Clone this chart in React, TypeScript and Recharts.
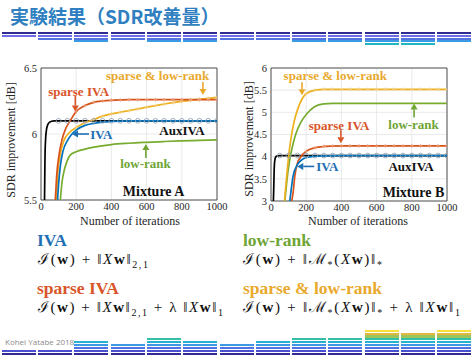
import React from 'react';
import { ComposedChart, Line, XAxis, YAxis, CartesianGrid, ReferenceArea, ReferenceDot } from 'recharts';

type Pt = { x: number; y: number };
type Note = { x: number; y: number; text: string; color: string; size: number; anchor: 'start' | 'middle' | 'end' };
type Arrow = { x: number; y: number; dir: 'up' | 'down' | 'left'; len: number; color: string };

const X_TICKS = [0, 200, 400, 600, 800, 1000];
const A_Y_TICKS = [5.5, 6, 6.5];
const B_Y_TICKS = [3, 3.5, 4, 4.5, 5, 5.5, 6];

// ---- Mixture A ----
const A_AUXIVA: Pt[] = [
  { x: 15, y: 5.2 }, { x: 20, y: 5.5 }, { x: 23, y: 5.85 }, { x: 27, y: 5.98 }, { x: 32, y: 6.04 },
  { x: 40, y: 6.075 }, { x: 50, y: 6.09 }, { x: 60, y: 6.097 }, { x: 75, y: 6.1 },
  { x: 100, y: 6.1 }, { x: 150, y: 6.1 }, { x: 200, y: 6.1 }, { x: 250, y: 6.1 }, { x: 300, y: 6.1 },
  { x: 350, y: 6.1 }, { x: 400, y: 6.1 }, { x: 450, y: 6.1 }, { x: 500, y: 6.1 }, { x: 550, y: 6.1 },
  { x: 600, y: 6.1 }, { x: 650, y: 6.1 }, { x: 700, y: 6.1 }, { x: 750, y: 6.1 }, { x: 800, y: 6.1 },
  { x: 850, y: 6.1 }, { x: 900, y: 6.1 }, { x: 950, y: 6.1 }, { x: 1000, y: 6.1 },
];
const A_IVA: Pt[] = [
  { x: 90, y: 5.4 }, { x: 94, y: 5.5 }, { x: 100, y: 5.62 }, { x: 110, y: 5.76 }, { x: 125, y: 5.87 },
  { x: 150, y: 5.95 }, { x: 176, y: 6.0 }, { x: 200, y: 6.03 }, { x: 250, y: 6.065 }, { x: 300, y: 6.08 },
  { x: 350, y: 6.09 }, { x: 400, y: 6.095 }, { x: 500, y: 6.1 }, { x: 1000, y: 6.1 },
];
const A_SPARSE: Pt[] = [
  { x: 75, y: 5.4 }, { x: 81, y: 5.5 }, { x: 90, y: 5.7 }, { x: 100, y: 5.82 }, { x: 120, y: 5.96 },
  { x: 140, y: 6.04 }, { x: 166, y: 6.1 }, { x: 200, y: 6.17 }, { x: 250, y: 6.215 }, { x: 300, y: 6.24 },
  { x: 350, y: 6.25 }, { x: 400, y: 6.255 }, { x: 450, y: 6.258 }, { x: 500, y: 6.26 }, { x: 550, y: 6.26 },
  { x: 600, y: 6.26 }, { x: 650, y: 6.26 }, { x: 700, y: 6.26 }, { x: 750, y: 6.26 }, { x: 800, y: 6.26 },
  { x: 850, y: 6.26 }, { x: 900, y: 6.26 }, { x: 950, y: 6.26 }, { x: 1000, y: 6.26 },
];
const A_LOWRANK: Pt[] = [
  { x: 105, y: 5.4 }, { x: 110, y: 5.5 }, { x: 120, y: 5.64 }, { x: 135, y: 5.74 }, { x: 150, y: 5.8 },
  { x: 166, y: 5.84 }, { x: 200, y: 5.865 }, { x: 250, y: 5.885 }, { x: 300, y: 5.9 }, { x: 400, y: 5.92 },
  { x: 500, y: 5.93 }, { x: 600, y: 5.937 }, { x: 700, y: 5.943 }, { x: 800, y: 5.948 }, { x: 900, y: 5.952 },
  { x: 1000, y: 5.956 },
];
const A_BOTH: Pt[] = [
  { x: 80, y: 5.35 }, { x: 87, y: 5.5 }, { x: 95, y: 5.7 }, { x: 110, y: 5.85 }, { x: 130, y: 5.95 },
  { x: 160, y: 6.01 }, { x: 200, y: 6.05 }, { x: 250, y: 6.085 }, { x: 300, y: 6.11 }, { x: 350, y: 6.135 },
  { x: 400, y: 6.152 }, { x: 450, y: 6.165 }, { x: 500, y: 6.177 }, { x: 550, y: 6.19 }, { x: 600, y: 6.203 },
  { x: 650, y: 6.215 }, { x: 700, y: 6.227 }, { x: 750, y: 6.238 }, { x: 800, y: 6.247 }, { x: 850, y: 6.255 },
  { x: 900, y: 6.263 }, { x: 950, y: 6.27 }, { x: 1000, y: 6.277 },
];

// ---- Mixture B ----
const B_AUXIVA: Pt[] = [
  { x: 12, y: 2.8 }, { x: 15, y: 3.2 }, { x: 18, y: 3.7 }, { x: 22, y: 3.93 }, { x: 28, y: 4.0 },
  { x: 35, y: 4.015 }, { x: 50, y: 4.025 }, { x: 100, y: 4.025 }, { x: 150, y: 4.025 }, { x: 200, y: 4.025 },
  { x: 250, y: 4.025 }, { x: 300, y: 4.025 }, { x: 350, y: 4.025 }, { x: 400, y: 4.025 }, { x: 450, y: 4.025 },
  { x: 500, y: 4.025 }, { x: 550, y: 4.025 }, { x: 600, y: 4.025 }, { x: 650, y: 4.025 }, { x: 700, y: 4.025 },
  { x: 750, y: 4.025 }, { x: 800, y: 4.025 }, { x: 850, y: 4.025 }, { x: 900, y: 4.025 }, { x: 950, y: 4.025 },
  { x: 1000, y: 4.025 },
];
const B_IVA: Pt[] = [
  { x: 100, y: 2.8 }, { x: 105, y: 2.95 }, { x: 113, y: 3.2 }, { x: 125, y: 3.55 }, { x: 150, y: 3.82 },
  { x: 175, y: 3.93 }, { x: 200, y: 3.98 }, { x: 250, y: 4.01 }, { x: 300, y: 4.02 }, { x: 400, y: 4.025 },
  { x: 1000, y: 4.025 },
];
const B_SPARSE: Pt[] = [
  { x: 112, y: 2.85 }, { x: 120, y: 3.05 }, { x: 126, y: 3.2 }, { x: 135, y: 3.55 }, { x: 150, y: 3.85 },
  { x: 170, y: 4.0 }, { x: 200, y: 4.12 }, { x: 250, y: 4.2 }, { x: 300, y: 4.23 }, { x: 350, y: 4.24 },
  { x: 400, y: 4.245 }, { x: 450, y: 4.245 }, { x: 500, y: 4.245 }, { x: 550, y: 4.245 }, { x: 600, y: 4.245 },
  { x: 650, y: 4.245 }, { x: 700, y: 4.245 }, { x: 750, y: 4.245 }, { x: 800, y: 4.245 }, { x: 850, y: 4.245 },
  { x: 900, y: 4.245 }, { x: 950, y: 4.245 }, { x: 1000, y: 4.245 },
];
const B_LOWRANK: Pt[] = [
  { x: 75, y: 2.9 }, { x: 80, y: 3.05 }, { x: 90, y: 3.45 }, { x: 105, y: 3.9 }, { x: 120, y: 4.2 },
  { x: 140, y: 4.5 }, { x: 170, y: 4.78 }, { x: 200, y: 4.95 }, { x: 245, y: 5.12 }, { x: 300, y: 5.19 },
  { x: 350, y: 5.2 }, { x: 1000, y: 5.2 },
];
const B_BOTH: Pt[] = [
  { x: 75, y: 2.9 }, { x: 81, y: 3.2 }, { x: 90, y: 3.6 }, { x: 100, y: 4.0 }, { x: 115, y: 4.45 },
  { x: 132, y: 4.8 }, { x: 150, y: 5.05 }, { x: 176, y: 5.3 }, { x: 200, y: 5.42 }, { x: 250, y: 5.5 },
  { x: 300, y: 5.52 }, { x: 350, y: 5.52 }, { x: 400, y: 5.52 }, { x: 450, y: 5.52 }, { x: 500, y: 5.52 },
  { x: 550, y: 5.52 }, { x: 600, y: 5.52 }, { x: 650, y: 5.52 }, { x: 700, y: 5.52 }, { x: 750, y: 5.52 },
  { x: 800, y: 5.52 }, { x: 850, y: 5.52 }, { x: 900, y: 5.52 }, { x: 950, y: 5.52 }, { x: 1000, y: 5.52 },
];

const C_BLUE = '#0072BD';
const C_RED = '#D95319';
const C_YEL = '#EDB120';
const C_GREEN = '#77AC30';
const T_BLUE = '#1f6fb5';
const T_RED = '#d9552a';
const T_YEL = '#e9a92c';
const T_GREEN = '#6ea535';

const A_NOTES: Note[] = [
  { x: 214, y: 6.32, text: 'sparse IVA', color: T_RED, size: 13, anchor: 'middle' },
  { x: 663, y: 6.44, text: 'sparse & low-rank', color: T_YEL, size: 13, anchor: 'middle' },
  { x: 280, y: 6.0, text: 'IVA', color: T_BLUE, size: 13, anchor: 'start' },
  { x: 801, y: 6.023, text: 'AuxIVA', color: '#111', size: 13, anchor: 'middle' },
  { x: 594, y: 5.78, text: 'low-rank', color: T_GREEN, size: 13, anchor: 'middle' },
  { x: 640, y: 5.563, text: 'Mixture A', color: '#111', size: 14, anchor: 'middle' },
];
const A_ARROWS: Arrow[] = [
  { x: 195, y: 6.17, dir: 'down', len: 16, color: T_RED },
  { x: 920, y: 6.295, dir: 'down', len: 13, color: T_YEL },
  { x: 176, y: 6.0, dir: 'left', len: 17, color: T_BLUE },
  { x: 596, y: 5.924, dir: 'up', len: 14, color: T_GREEN },
];
const B_NOTES: Note[] = [
  { x: 365, y: 5.82, text: 'sparse & low-rank', color: T_YEL, size: 13, anchor: 'middle' },
  { x: 810, y: 4.73, text: 'low-rank', color: T_GREEN, size: 13, anchor: 'middle' },
  { x: 387, y: 4.71, text: 'sparse IVA', color: T_RED, size: 13, anchor: 'middle' },
  { x: 257, y: 3.78, text: 'IVA', color: T_BLUE, size: 13, anchor: 'start' },
  { x: 796, y: 3.78, text: 'AuxIVA', color: '#111', size: 13, anchor: 'middle' },
  { x: 810, y: 3.2, text: 'Mixture B', color: '#111', size: 14, anchor: 'middle' },
];
const B_ARROWS: Arrow[] = [
  { x: 176, y: 5.384, dir: 'down', len: 13, color: T_YEL },
  { x: 813, y: 5.2, dir: 'up', len: 14, color: T_GREEN },
  { x: 397, y: 4.3, dir: 'down', len: 13, color: T_RED },
  { x: 149, y: 3.78, dir: 'left', len: 17, color: T_BLUE },
];

const TOP_STRIPE_COUNTS = [2, 3, 4, 3, 4, 4, 3, 3, 4, 4, 5, 5, 4];
const BOTTOM_STRIPE_COUNTS = [2, 2, 5, 4, 6, 5, 4, 5, 6, 6, 9, 8, 9];
const TOP_COLORS = ['#302a93', '#6f6de6', '#5573e0', '#3a9be2', '#1fb6c2', '#35c39a'];
const BOTTOM_COLORS = ['#33289a', '#4a4fd0', '#4f74e4', '#3d98e6', '#27b2d2', '#34bfa6', '#9cc45a', '#e2b844', '#f6e23a'];

const SERIF = '"Liberation Serif", "Times New Roman", serif';
const MATH = '"Liberation Serif", "DejaVu Serif", serif';
const TICK_STYLE = { fontSize: 10.5, fill: '#262626', fontFamily: SERIF };

function plusDot(color: string, from: number) {
  return (p: any) => {
    const k = `pd${p.index}`;
    if (p.payload == null || p.payload.x < from || p.payload.x % 50 !== 0) return <g key={k} />;
    return (
      <g key={k}>
        <line x1={p.cx - 1.8} x2={p.cx + 1.8} y1={p.cy} y2={p.cy} stroke={color} strokeWidth={0.9} />
        <line x1={p.cx} x2={p.cx} y1={p.cy - 1.8} y2={p.cy + 1.8} stroke={color} strokeWidth={0.9} />
      </g>
    );
  };
}

function circleDot(from: number) {
  return (p: any) => {
    const k = `cd${p.index}`;
    if (p.payload == null || p.payload.x < from || p.payload.x % 50 !== 0) return <g key={k} />;
    return <circle key={k} cx={p.cx} cy={p.cy} r={2.4} fill="none" stroke="#97a6b8" strokeWidth={0.9} />;
  };
}

function noteShape(n: Note) {
  return (s: any) => (
    <text x={s.cx} y={s.cy} textAnchor={n.anchor} dominantBaseline="central" fontFamily={SERIF}
      fontWeight={700} fontSize={n.size} fill={n.color}>{n.text}</text>
  );
}

function arrowShape(a: Arrow) {
  return (s: any) => {
    const cx = s.cx, cy = s.cy, h = 6, w = 3.5;
    let x1 = cx, y1 = cy, x2 = cx, y2 = cy, pts = '';
    if (a.dir === 'down') { y1 = cy - a.len; y2 = cy - h; pts = `${cx},${cy} ${cx - w},${cy - h} ${cx + w},${cy - h}`; }
    if (a.dir === 'up') { y1 = cy + a.len; y2 = cy + h; pts = `${cx},${cy} ${cx - w},${cy + h} ${cx + w},${cy + h}`; }
    if (a.dir === 'left') { x1 = cx + a.len; x2 = cx + h; pts = `${cx},${cy} ${cx + h},${cy - w} ${cx + h},${cy + w}`; }
    return (
      <g>
        <line x1={x1} y1={y1} x2={x2} y2={y2} stroke={a.color} strokeWidth={1.6} />
        <polygon points={pts} fill={a.color} />
      </g>
    );
  };
}

type PanelProps = {
  left: number; top: number; width: number; height: number;
  marginTop: number; marginRight: number; yAxisWidth: number; xAxisHeight: number;
  yDomain: [number, number]; yTicks: number[];
  aux: Pt[]; auxMarkFrom: number; iva: Pt[]; sparse: Pt[]; lowrank: Pt[]; both: Pt[];
  notes: Note[]; arrows: Arrow[];
  yLabelX: number; yLabelY: number; xLabelX: number; xLabelY: number;
};

function Panel(p: PanelProps) {
  return (
    <div style={{ position: 'absolute', left: p.left, top: p.top, width: p.width, height: p.height }}>
      <ComposedChart width={p.width} height={p.height}
        margin={{ top: p.marginTop, right: p.marginRight, left: 0, bottom: 0 }}>
        <CartesianGrid stroke="#e4e4e4" strokeWidth={0.8} />
        <XAxis type="number" dataKey="x" domain={[0, 1000]} ticks={X_TICKS} allowDataOverflow interval={0}
          height={p.xAxisHeight} tickLine={false} axisLine={false} tickSize={0} tickMargin={3} tick={TICK_STYLE} />
        <YAxis type="number" domain={p.yDomain} ticks={p.yTicks} allowDataOverflow interval={0}
          width={p.yAxisWidth} tickLine={false} axisLine={false} tickSize={0} tickMargin={4} tick={TICK_STYLE} />
        <ReferenceArea x1={0} x2={1000} y1={p.yDomain[0]} y2={p.yDomain[1]} fill="none" fillOpacity={0}
          stroke="#2b2b2b" strokeWidth={0.8} />
        <Line data={p.aux} dataKey="y" type="monotone" stroke="#000" strokeWidth={1.7} dot={false} isAnimationActive={false} />
        <Line data={p.lowrank} dataKey="y" type="monotone" stroke={C_GREEN} strokeWidth={1.7} dot={false} isAnimationActive={false} />
        <Line data={p.both} dataKey="y" type="monotone" stroke={C_YEL} strokeWidth={1.7} dot={plusDot('#f2cf7e', 200)} isAnimationActive={false} />
        <Line data={p.sparse} dataKey="y" type="monotone" stroke={C_RED} strokeWidth={1.7} dot={plusDot('#e89a78', 200)} isAnimationActive={false} />
        <Line data={p.iva} dataKey="y" type="monotone" stroke={C_BLUE} strokeWidth={1.7} dot={false} isAnimationActive={false} />
        <Line data={p.aux} dataKey="y" type="monotone" stroke="none" dot={circleDot(p.auxMarkFrom)} isAnimationActive={false} />
        {p.arrows.map((a, i) => (
          <ReferenceDot key={'a' + i} x={a.x} y={a.y} r={0} ifOverflow="visible" shape={arrowShape(a)} />
        ))}
        {p.notes.map((n, i) => (
          <ReferenceDot key={'n' + i} x={n.x} y={n.y} r={0} ifOverflow="visible" shape={noteShape(n)} />
        ))}
      </ComposedChart>
      <svg style={{ position: 'absolute', left: 0, top: 0, pointerEvents: 'none' }} width={p.width} height={p.height}>
        <text x={p.yLabelX} y={p.yLabelY} transform={`rotate(-90 ${p.yLabelX} ${p.yLabelY})`} textAnchor="middle"
          dominantBaseline="central" fontFamily={SERIF} fontSize={12} fill="#262626">SDR improvement [dB]</text>
        <text x={p.xLabelX} y={p.xLabelY} textAnchor="middle" fontFamily={SERIF} fontSize={12} fill="#262626">Number of iterations</text>
      </svg>
    </div>
  );
}

function Stripes() {
  const blocks: React.ReactNode[] = [];
  TOP_STRIPE_COUNTS.forEach((n, k) => {
    for (let i = 0; i < n; i++) {
      blocks.push(<div key={`t${k}-${i}`} style={{ position: 'absolute', left: 1.7 + 36.3 * k, top: 32 + i * 2.8, width: 34, height: 2.1, background: TOP_COLORS[i] }} />);
    }
  });
  BOTTOM_STRIPE_COUNTS.forEach((n, k) => {
    for (let i = 0; i < n; i++) {
      blocks.push(<div key={`b${k}-${i}`} style={{ position: 'absolute', left: 1.7 + 36.3 * k, top: 355 - (i + 1) * 2.9 + 0.7, width: 34, height: 2.2, background: BOTTOM_COLORS[i] }} />);
    }
  });
  return <>{blocks}</>;
}

export default function App() {
  return (
    <div style={{ position: 'absolute', left: 0, top: 0, width: 474, height: 355, background: '#fff', overflow: 'hidden' }}>
      <div style={{ position: 'absolute', left: 10, top: 5, fontFamily: '"Noto Sans CJK JP", sans-serif', fontWeight: 700, fontSize: 19, lineHeight: '22px', color: '#2f7fc1', whiteSpace: 'nowrap' }}>
        実験結果（SDR改善量）
      </div>
      <Stripes />
      <Panel left={0} top={55} width={230} height={175} marginTop={13} marginRight={13} yAxisWidth={41} xAxisHeight={30}
        yDomain={[5.5, 6.5]} yTicks={A_Y_TICKS} aux={A_AUXIVA} auxMarkFrom={100} iva={A_IVA} sparse={A_SPARSE}
        lowrank={A_LOWRANK} both={A_BOTH} notes={A_NOTES} arrows={A_ARROWS}
        yLabelX={11} yLabelY={85} xLabelX={130} xLabelY={170} />
      <Panel left={234} top={55} width={226} height={175} marginTop={13} marginRight={13} yAxisWidth={37} xAxisHeight={29}
        yDomain={[3, 6]} yTicks={B_Y_TICKS} aux={B_AUXIVA} auxMarkFrom={50} iva={B_IVA} sparse={B_SPARSE}
        lowrank={B_LOWRANK} both={B_BOTH} notes={B_NOTES} arrows={B_ARROWS}
        yLabelX={15} yLabelY={84} xLabelX={124} xLabelY={170} />
      <svg style={{ position: 'absolute', left: 0, top: 0 }} width={474} height={355}>
        <g fontFamily={MATH}>
          <text x={37} y={245.5} fontWeight={700} fontSize={17.5} fill={T_BLUE}>IVA</text>
          <text x={38} y={263.5} fontSize={15} fill="#111" textLength={110} lengthAdjust="spacing">ℐ(<tspan fontWeight={700}>w</tspan>){' + ‖'}<tspan fontStyle="italic">X</tspan><tspan fontWeight={700}>w</tspan>‖<tspan dy={4} fontSize={10}>2,1</tspan></text>
          <text x={37} y={293.5} fontWeight={700} fontSize={17.5} fill={T_RED}>sparse IVA</text>
          <text x={38} y={311.5} fontSize={15} fill="#111" textLength={185} lengthAdjust="spacing">ℐ(<tspan fontWeight={700}>w</tspan>){' + ‖'}<tspan fontStyle="italic">X</tspan><tspan fontWeight={700}>w</tspan>‖<tspan dy={4} fontSize={10}>2,1</tspan><tspan dy={-4}>{' + λ ‖'}</tspan><tspan fontStyle="italic">X</tspan><tspan fontWeight={700}>w</tspan>‖<tspan dy={4} fontSize={10}>1</tspan></text>
          <text x={243} y={245.5} fontWeight={700} fontSize={17.5} fill={T_GREEN}>low-rank</text>
          <text x={243} y={263.5} fontSize={15} fill="#111" textLength={139} lengthAdjust="spacing">ℐ(<tspan fontWeight={700}>w</tspan>){' + ‖ℳ'}<tspan dy={4} fontSize={10}>*</tspan><tspan dy={-4}>(</tspan><tspan fontStyle="italic">X</tspan><tspan fontWeight={700}>w</tspan>)‖<tspan dy={4} fontSize={10}>*</tspan></text>
          <text x={243} y={293.5} fontWeight={700} fontSize={17.5} fill={T_YEL}>sparse &amp; low-rank</text>
          <text x={243} y={311.5} fontSize={15} fill="#111" textLength={217} lengthAdjust="spacing">ℐ(<tspan fontWeight={700}>w</tspan>){' + ‖ℳ'}<tspan dy={4} fontSize={10}>*</tspan><tspan dy={-4}>(</tspan><tspan fontStyle="italic">X</tspan><tspan fontWeight={700}>w</tspan>)‖<tspan dy={4} fontSize={10}>*</tspan><tspan dy={-4}>{' + λ ‖'}</tspan><tspan fontStyle="italic">X</tspan><tspan fontWeight={700}>w</tspan>‖<tspan dy={4} fontSize={10}>1</tspan></text>
        </g>
        <text x={5} y={344.5} fontSize={8} fontFamily='"Open Sans", sans-serif' fill="#8a8a8a">Kohei Yatabe 2018</text>
      </svg>
    </div>
  );
}
